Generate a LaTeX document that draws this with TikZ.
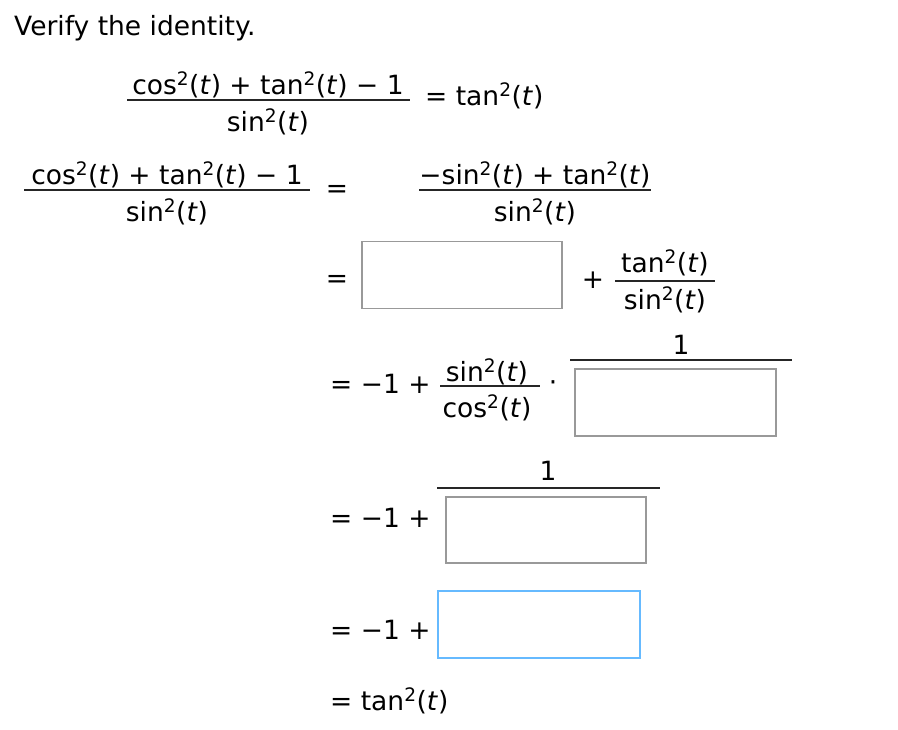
\documentclass[tikz,border=0pt]{standalone}
\usepackage{fontspec}
\setmainfont{DejaVu Sans}
\newcommand{\sq}[1]{#1\textsuperscript{2}(\textit{t})}
\begin{document}
\begin{tikzpicture}[x=1pt,y=-1pt,
  every node/.style={font=\fontsize{26.5}{30}\selectfont, inner sep=0pt},
  fl/.style={line width=1.6pt, black!85},
  ans/.style={draw=gray!80, line width=1.8pt, fill=white},
  ansa/.style={draw=blue!45!cyan!60, line width=2.2pt, fill=white}]
\useasboundingbox (0,0) rectangle (898,730);
\node[anchor=west] (title) at (14,28) {Verify the identity.};
% row 1
\node (n1) at (268,85) {\sq{cos} + \sq{tan} − 1};
\draw[fl] (127,100) -- (410,100);
\node (d1) at (268,122) {\sq{sin}};
\node[anchor=west] (r1) at (425,96) {= \sq{tan}};
% row 2
\node (n2) at (167,175) {\sq{cos} + \sq{tan} − 1};
\draw[fl] (24,190) -- (310,190);
\node (d2) at (167,212) {\sq{sin}};
\node (e2) at (337,191) {=};
\node (n2b) at (535,175) {−\sq{sin} + \sq{tan}};
\draw[fl] (n2b.west |- 0,190) -- (n2b.east |- 0,190);
\node (d2b) at (535,212) {\sq{sin}};
% row 3
\node (e3) at (337,281) {=};
\node[ans, minimum width=200pt, minimum height=67pt] (b3) at (462,275) {};
\node (p3) at (593,280) {+};
\node (n3) at (665,263) {\sq{tan}};
\draw[fl] (615,281) -- (715,281);
\node (d3) at (665,300) {\sq{sin}};
% row 4
\node (o4) at (681,345) {1};
\draw[fl] (570,360) -- (792,360);
\node[ans, minimum width=201pt, minimum height=67pt] (b4) at (675.5,402.5) {};
\node[anchor=west] (e4) at (330,384) {= −1 +};
\node (n4) at (487,372) {\sq{sin}};
\draw[fl] (440,386) -- (540,386);
\node (d4) at (487,408) {\sq{cos}};
\node (dot4) at (553,386) {·};
% row 5
\node (o5) at (548,471) {1};
\draw[fl] (437,488) -- (660,488);
\node[ans, minimum width=200pt, minimum height=66pt] (b5) at (546,530) {};
\node[anchor=west] (e5) at (330,518) {= −1 +};
% row 6
\node[anchor=west] (e6) at (330,630) {= −1 +};
\node[ansa, minimum width=202pt, minimum height=67pt] (b6) at (539,624.5) {};
% row 7
\node[anchor=west] (e7) at (330,701) {= \sq{tan}};
\end{tikzpicture}
\end{document}
